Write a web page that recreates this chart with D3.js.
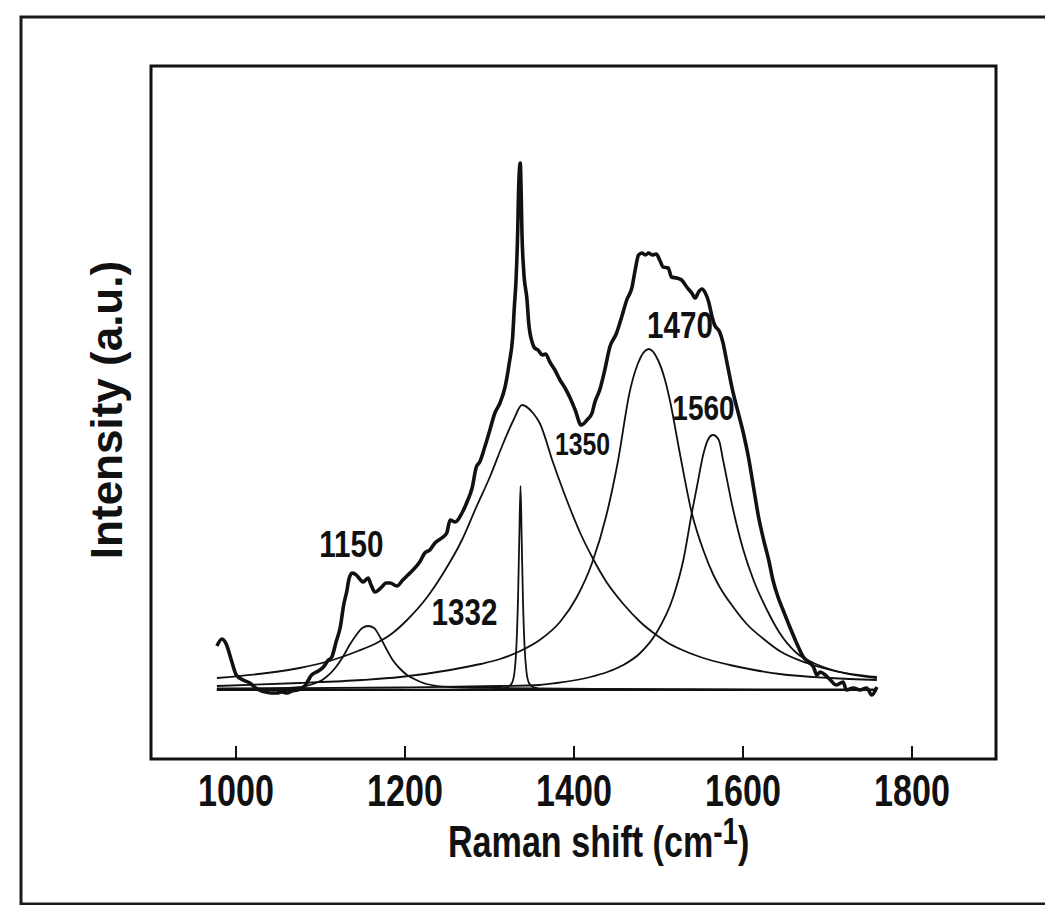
<!DOCTYPE html>
<html>
<head>
<meta charset="utf-8">
<script src="https://cdn.jsdelivr.net/npm/d3@7"></script>
<style>
  body { margin: 0; background: #fff; }
  svg text { font-family: "Liberation Sans", Arial, sans-serif; font-weight: bold; fill: #111; }
</style>
</head>
<body>
<svg id="chart" width="1045" height="905"></svg>
<script>
// measured spectrum [Raman shift cm-1, intensity a.u.]
var spectrum = [
  [978,44],[984,51],[989,46],[995,30],[1001,15],[1009,10],[1017,7],[1024,2],[1031,-1],[1036,-2],
  [1042,-3],[1049,-3],[1055,-2],[1061,-3],[1067,-1],[1073,0],[1082,4],[1090,15],[1098,19],[1104,23],
  [1109,29],[1114,33],[1119,48],[1124,63],[1128,85],[1132,100],[1134,110],[1138,117],[1143,115],[1147,111],
  [1151,108],[1157,112],[1160,106],[1165,98],[1173,103],[1178,107],[1183,107],[1191,104],[1198,110],[1204,115],
  [1210,120],[1218,128],[1224,137],[1230,140],[1236,147],[1244,152],[1250,157],[1254,170],[1260,168],[1268,177],
  [1274,188],[1280,202],[1285,223],[1289,228],[1295,243],[1300,257],[1307,277],[1313,287],[1319,303],[1324,327],
  [1328,353],[1330,383],[1332,410],[1334,460],[1335,500],[1337,527],[1338,500],[1339,457],[1341,420],[1345,390],
  [1347,367],[1351,348],[1354,342],[1358,340],[1363,335],[1367,336],[1372,328],[1378,320],[1384,310],[1390,302],
  [1396,292],[1402,280],[1409,265],[1416,270],[1422,277],[1425,287],[1431,300],[1437,320],[1443,343],[1451,357],
  [1457,373],[1463,390],[1469,402],[1473,420],[1477,435],[1481,437],[1485,435],[1489,437],[1493,435],[1498,436],
  [1502,430],[1506,423],[1512,422],[1516,413],[1522,412],[1528,410],[1534,403],[1540,397],[1544,392],[1548,398],
  [1552,401],[1556,397],[1560,388],[1564,373],[1567,365],[1573,358],[1577,347],[1581,330],[1585,313],[1589,297],
  [1595,277],[1601,257],[1607,233],[1613,203],[1619,173],[1625,150],[1631,130],[1636,110],[1642,93],[1648,80],
  [1656,63],[1664,47],[1672,33],[1678,28],[1684,23],[1688,15],[1692,18],[1698,15],[1704,10],[1711,5],
  [1719,8],[1723,0],[1731,2],[1739,0],[1747,2],[1753,-5],[1759,3]
];

// fitted bands
var band1150 = [
  [978,1],[1029,1.5],[1064,2],[1088,5],[1106,12],[1118,22],[1127,33],[1135,45],[1143,55],[1150,62],
  [1157,64],[1164,62],[1171,53],[1178,42],[1186,30],[1195,21],[1203,15],[1214,10],[1226,6],[1254,3],
  [1313,2],[1431,1],[1759,0.5]
];
var band1340 = [
  [978,12],[1037,17],[1076,22],[1115,30],[1145,39],[1167,47],[1186,57],[1203,70],[1226,92],[1246,117],
  [1268,150],[1285,183],[1301,213],[1317,247],[1329,270],[1339,285],[1352,277],[1360,267],[1376,227],[1392,190],
  [1408,157],[1422,133],[1439,108],[1459,86],[1479,68],[1498,55],[1512,47],[1526,41],[1550,33],[1585,25],
  [1614,20],[1644,16],[1704,12],[1759,10]
];
var band1332 = [
  [978,0],[1313,0.5],[1322.5,3],[1327.2,7],[1330.2,18],[1332.5,45],[1334.3,90],[1335.8,150],[1337.3,204],
  [1338.7,150],[1340.2,90],[1342.0,45],[1344.4,18],[1347.3,7],[1352.1,3],[1366,0.5],[1759,0]
];
var band1470 = [
  [978,4],[1076,7],[1150,10],[1195,13],[1254,20],[1290,26],[1313,31],[1337,39],[1360,50],[1384,68],
  [1404,93],[1422,127],[1439,175],[1452,226],[1467,300],[1476,326],[1489,341],[1500,330],[1508,311],[1514,290],
  [1526,236],[1540,177],[1554,139],[1565,116],[1573,103],[1589,83],[1605,66],[1625,51],[1644,39],[1676,27],
  [1704,20],[1759,13]
];
var band1560 = [
  [978,1.5],[1195,2.5],[1313,4],[1360,5],[1380,7],[1420,13],[1440,18],[1459,25],[1479,37],[1498,57],
  [1518,93],[1530,130],[1540,177],[1546,203],[1554,237],[1559,250],[1565,255],[1572,250],[1577,230],[1589,180],
  [1601,140],[1613,110],[1629,80],[1644,57],[1664,37],[1684,27],[1715,18],[1759,12]
];
var baseline = [[978,0],[1759,0]];

var xTicks = [1000, 1200, 1400, 1600, 1800];
var peakLabels = ["1150", "1332", "1350", "1470", "1560"];

var svg = d3.select("#chart");
var plot = { left: 151, top: 66, right: 996, bottom: 759 };

var x = d3.scaleLinear().domain([900, 1900]).range([plot.left, plot.right]);
var y = d3.scaleLinear().domain([-69, 624]).range([plot.bottom, plot.top]);

// outer frame (runs off the right edge)
svg.append("path")
  .attr("d", "M1050,17 H21 V904 H1050")
  .attr("fill", "none")
  .attr("stroke", "#1a1a1a")
  .attr("stroke-width", 3);

// x axis, ticks pointing inward
var xAxis = d3.axisBottom(x)
  .tickValues(xTicks)
  .tickSizeInner(-13)
  .tickSizeOuter(0)
  .tickPadding(16)
  .tickFormat(d3.format("d"));

var gx = svg.append("g")
  .attr("transform", "translate(0," + plot.bottom + ")")
  .call(xAxis);
gx.select(".domain").remove();
gx.selectAll(".tick line").attr("stroke", "#111").attr("stroke-width", 2);
gx.selectAll(".tick text")
  .attr("font-size", 44)
  .attr("font-family", null)
  .attr("fill", "#111")
  .attr("transform", "scale(0.775,1)");

// plot box
svg.append("rect")
  .attr("x", plot.left)
  .attr("y", plot.top)
  .attr("width", plot.right - plot.left)
  .attr("height", plot.bottom - plot.top)
  .attr("fill", "none")
  .attr("stroke", "#111")
  .attr("stroke-width", 3);

var line = d3.line()
  .x(function (d) { return x(d[0]); })
  .y(function (d) { return y(d[1]); })
  .curve(d3.curveMonotoneX);

// fitted components, thin
[baseline, band1150, band1340, band1332, band1470, band1560].forEach(function (s) {
  svg.append("path")
    .datum(s)
    .attr("d", line)
    .attr("fill", "none")
    .attr("stroke", "#111")
    .attr("stroke-width", 1.8);
});

// measured spectrum, thick
svg.append("path")
  .datum(spectrum)
  .attr("d", line)
  .attr("fill", "none")
  .attr("stroke", "#111")
  .attr("stroke-width", 3.6)
  .attr("stroke-linejoin", "round");

// peak labels (left/baseline in data units)
var labelPos = {
  "1150": { x: 1099, y: 133, size: 37 },
  "1332": { x: 1232, y: 65, size: 37 },
  "1350": { x: 1378, y: 235, size: 31 },
  "1470": { x: 1487, y: 352, size: 37 },
  "1560": { x: 1517, y: 270, size: 35 }
};
peakLabels.forEach(function (t) {
  var p = labelPos[t];
  svg.append("text")
    .attr("transform", "translate(" + x(p.x) + "," + y(p.y) + ") scale(0.8,1)")
    .attr("font-size", p.size)
    .text(t);
});

// axis titles
var xt = svg.append("text")
  .attr("transform", "translate(448,857) scale(0.775,1)")
  .attr("font-size", 44);
xt.append("tspan").text("Raman shift (cm");
xt.append("tspan").attr("dy", -13).attr("font-size", 36).text("-1");
xt.append("tspan").attr("dy", 13).text(")");

svg.append("text")
  .attr("transform", "translate(122,410) rotate(-90)")
  .attr("text-anchor", "middle")
  .attr("font-size", 44)
  .text("Intensity (a.u.)");
</script>
</body>
</html>
